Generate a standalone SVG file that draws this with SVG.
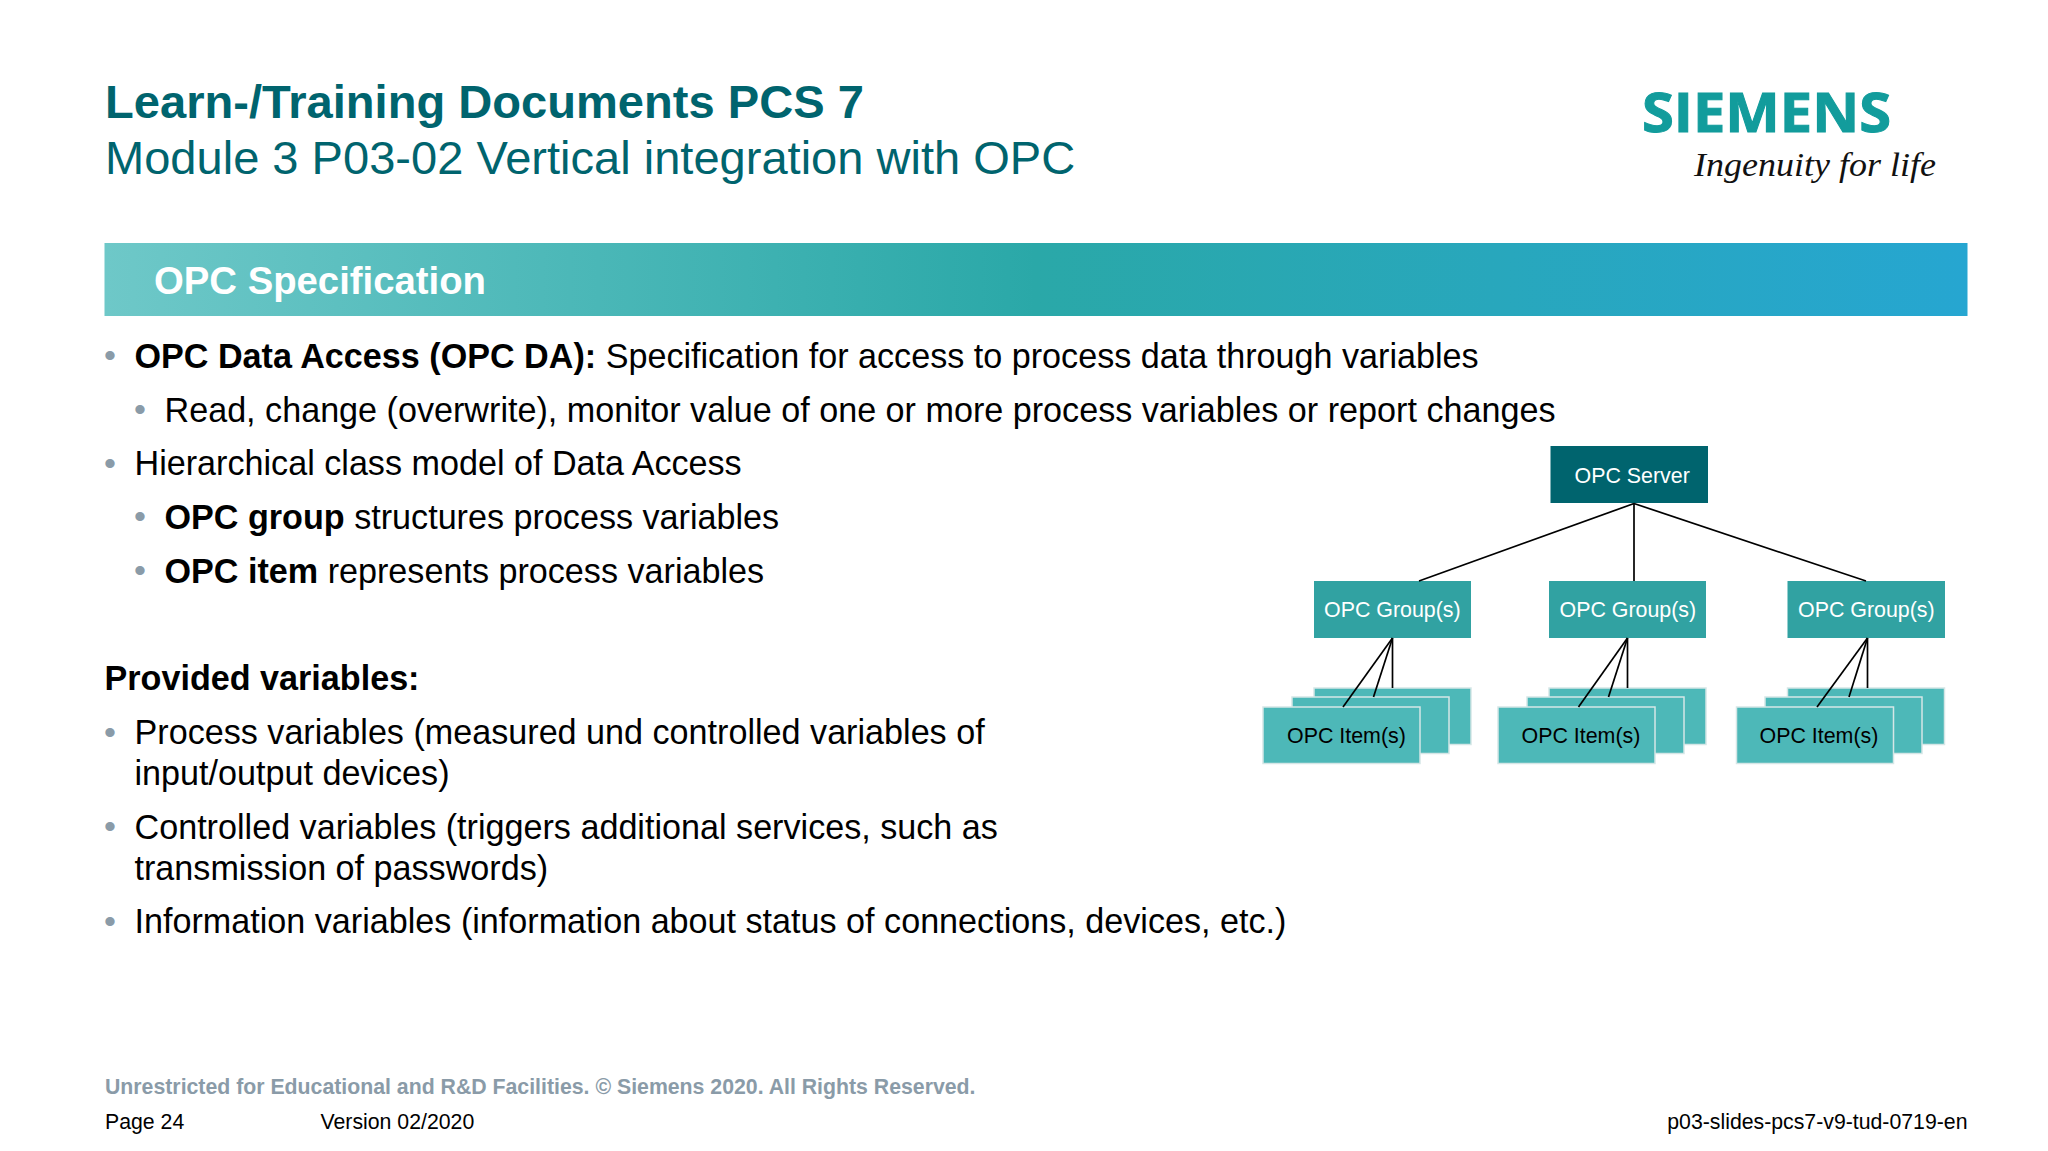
<svg xmlns="http://www.w3.org/2000/svg" width="2048" height="1151" viewBox="0 0 2048 1151">
<style>
text{font-family:"Liberation Sans",Arial,sans-serif}
.b{font-size:34.15px;fill:#000}
.bu{font-size:34.1px;fill:#8a9ba8}
.bold{font-weight:700}
.srv{fill:#00646e}
.grp{fill:#31a2a2}
.itm{fill:#4db8b8;stroke:#d5e6e6;stroke-width:1.5}
.lbl{font-size:21.4px;fill:#fff}
.lbk{font-size:21.4px;fill:#000}
.con line{stroke:#000;stroke-width:1.7}
.ftr{font-size:21.27px}
</style>
<defs><linearGradient id="band" x1="0" x2="1" y1="0" y2="0"><stop offset="0" stop-color="#6ec8c8"/><stop offset="0.5" stop-color="#2aa8a8"/><stop offset="1" stop-color="#26a6d1"/></linearGradient></defs>
<rect width="2048" height="1151" fill="#fff"/>
<g id="title">
<text x="105" y="117.500" font-size="47.100" font-weight="700" fill="#00646e">Learn-/Training Documents PCS 7</text>
<text x="105" y="173.500" font-size="47.050" fill="#00646e">Module 3 P03-02 Vertical integration with OPC</text>
</g>
<g id="logo">
<text x="1642" y="132" font-size="53" font-weight="700" fill="#129c9c" stroke="#129c9c" stroke-width="1" style="font-family:'Open Sans',sans-serif" textLength="249" lengthAdjust="spacingAndGlyphs">SIEMENS</text>
<text x="1694" y="176" font-size="34" font-style="italic" fill="#111" style="font-family:'Liberation Serif',serif" textLength="242" lengthAdjust="spacingAndGlyphs">Ingenuity for life</text>
</g>
<g id="band-group">
<rect x="104.500" y="243" width="1863" height="73" fill="url(#band)"/>
<text x="154" y="293.500" font-size="38.300" font-weight="700" fill="#fff">OPC Specification</text>
</g>
<g id="body">
<text class="bu" x="104" y="367">•</text>
<text class="b" x="134.500" y="367.500"><tspan class="bold">OPC Data Access (OPC DA):</tspan> Specification for access to process data through variables</text>
<text class="bu" x="134" y="421">•</text>
<text class="b" x="164.500" y="421.500">Read, change (overwrite), monitor value of one or more process variables or report changes</text>
<text class="bu" x="104" y="475">•</text>
<text class="b" x="134.500" y="474.500">Hierarchical class model of Data Access</text>
<text class="bu" x="134" y="528">•</text>
<text class="b" x="164.500" y="528.500"><tspan class="bold">OPC group</tspan> structures process variables</text>
<text class="bu" x="134" y="582">•</text>
<text class="b" x="164.500" y="582.500"><tspan class="bold">OPC item</tspan> represents process variables</text>
<text class="b bold" x="104.500" y="690">Provided variables:</text>
<text class="bu" x="104" y="744">•</text>
<text class="b" x="134.500" y="743.800">Process variables (measured und controlled variables of</text>
<text class="b" x="134.500" y="784.500">input/output devices)</text>
<text class="bu" x="104" y="838">•</text>
<text class="b" x="134.500" y="838.800">Controlled variables (triggers additional services, such as</text>
<text class="b" x="134.500" y="879.500">transmission of passwords)</text>
<text class="bu" x="104" y="933">•</text>
<text class="b" x="134.500" y="933.300">Information variables (information about status of connections, devices, etc.)</text>
</g>
<g id="server"><rect class="srv" x="1550.500" y="446" width="157.500" height="57"/><text class="lbl" x="1574.500" y="483">OPC Server</text></g>
<g id="group1"><rect class="grp" x="1314" y="581" width="157" height="57"/><text class="lbl" x="1324" y="616.500">OPC Group(s)</text></g>
<g id="group2"><rect class="grp" x="1549" y="581" width="157" height="57"/><text class="lbl" x="1559.500" y="616.500">OPC Group(s)</text></g>
<g id="group3"><rect class="grp" x="1787.500" y="581" width="157.500" height="57"/><text class="lbl" x="1798" y="616.500">OPC Group(s)</text></g>
<g id="items1"><rect class="itm" x="1314" y="688" width="157" height="56.500"/><rect class="itm" x="1292" y="697" width="157" height="56.500"/><rect class="itm" x="1263" y="707" width="157" height="56.500"/><text class="lbk" x="1287" y="743">OPC Item(s)</text></g>
<g id="items2"><rect class="itm" x="1549" y="688" width="157" height="56.500"/><rect class="itm" x="1527" y="697" width="157" height="56.500"/><rect class="itm" x="1498" y="707" width="157" height="56.500"/><text class="lbk" x="1521.500" y="743">OPC Item(s)</text></g>
<g id="items3"><rect class="itm" x="1787.500" y="688" width="157" height="56.500"/><rect class="itm" x="1765" y="697" width="157" height="56.500"/><rect class="itm" x="1736.500" y="707" width="157" height="56.500"/><text class="lbk" x="1759.500" y="743">OPC Item(s)</text></g>
<g id="connectors" class="con">
<line x1="1634" y1="503.500" x2="1419" y2="581"/>
<line x1="1634" y1="503.500" x2="1634" y2="581"/>
<line x1="1634" y1="503.500" x2="1866" y2="581"/>
<line x1="1392.500" y1="638" x2="1343" y2="707"/>
<line x1="1392.500" y1="638" x2="1373.500" y2="697"/>
<line x1="1392.500" y1="638" x2="1392.500" y2="688"/>
<line x1="1627.500" y1="638" x2="1578.500" y2="707"/>
<line x1="1627.500" y1="638" x2="1608.500" y2="697"/>
<line x1="1627.500" y1="638" x2="1627.500" y2="688"/>
<line x1="1867.500" y1="638" x2="1817" y2="707"/>
<line x1="1867.500" y1="638" x2="1849" y2="697"/>
<line x1="1867.500" y1="638" x2="1867.500" y2="688"/>
</g>
<g id="footer">
<text class="ftr" x="105" y="1094" font-weight="700" fill="#8a9ba8">Unrestricted for Educational and R&amp;D Facilities. © Siemens 2020. All Rights Reserved.</text>
<text class="ftr" x="105" y="1129">Page 24</text>
<text class="ftr" x="320.500" y="1129">Version 02/2020</text>
<text class="ftr" x="1967.500" y="1129" text-anchor="end">p03-slides-pcs7-v9-tud-0719-en</text>
</g>
</svg>
